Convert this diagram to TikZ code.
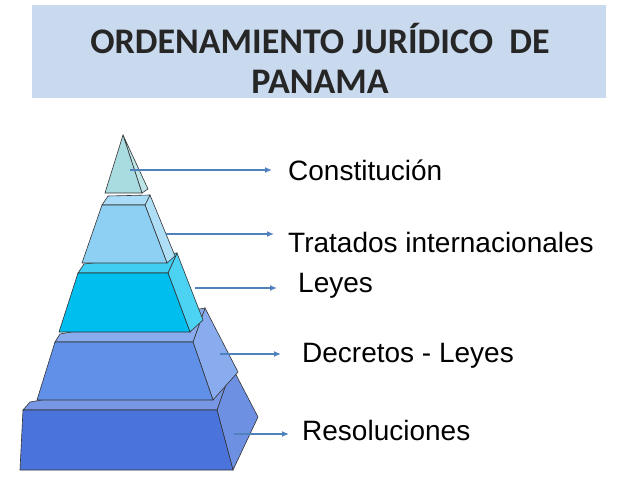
\documentclass[tikz,border=0pt]{standalone}
\usepackage{fontspec}
\setmainfont{Liberation Sans}
\newfontfamily\titlefont{Carlito}
\begin{document}
\begin{tikzpicture}[x=1pt,y=-1pt,
  face/.style={draw=black!80,line width=0.6pt},
  arr/.style={-{Latex[length=7pt,width=6pt]},draw=arrblue,line width=1.5pt},
  lbl/.style={anchor=west,font=\fontsize{28}{32}\selectfont,inner sep=0pt}]
\usetikzlibrary{arrows.meta}
\definecolor{arrblue}{HTML}{4F81BD}
\definecolor{banner}{HTML}{C9D9EE}
\definecolor{ta}{HTML}{A9DCE0}\definecolor{tb}{HTML}{8DD0F4}
\definecolor{tc}{HTML}{00BEEE}\definecolor{td}{HTML}{6190E8}
\definecolor{te}{HTML}{4A74DC}
\useasboundingbox (0,0) rectangle (638,479);
\fill[white] (0,0) rectangle (638,479);
\fill[banner] (32,5) rectangle (606,98);
\node[font=\titlefont\bfseries\fontsize{36}{40}\selectfont,text=black!85,align=center] (title) at (320,58) {ORDENAMIENTO JURÍDICO~~DE\\PANAMA};
% tier 5
\fill[te!80!white,face] (217,410) -- (232,367) -- (258,417) -- (233,470) -- cycle;
\fill[te!75!white,face] (23,410) -- (30,402) -- (232,367) -- (217,410) -- cycle;
\fill[te,face] (23,410) -- (217,410) -- (233,470) -- (20,470) -- cycle;
% tier 4
\fill[td!75!white,face] (193,342) -- (205,308) -- (238,372) -- (213,400) -- cycle;
\fill[td!75!white,face] (55,342) -- (60,334) -- (205,308) -- (193,342) -- cycle;
\fill[td,face] (55,342) -- (193,342) -- (213,400) -- (37,400) -- cycle;
% tier 3
\fill[tc!70!white,face] (168,273) -- (177,253) -- (203,320) -- (190,332) -- cycle;
\fill[tc!75!white,face] (78,273) -- (84,264) -- (177,253) -- (168,273) -- cycle;
\fill[tc,face] (78,273) -- (168,273) -- (190,332) -- (59,332) -- cycle;
% tier 2
\fill[tb!70!white,face] (145,205) -- (150,195) -- (175,256) -- (167,263) -- cycle;
\fill[tb!75!white,face] (102,205) -- (108,196) -- (150,195) -- (145,205) -- cycle;
\fill[tb,face] (102,205) -- (145,205) -- (167,263) -- (82,263) -- cycle;
% tier 1
\fill[ta!75!white,face] (123,135) -- (148,189) -- (142,193) -- cycle;
\fill[ta,face] (123,135) -- (142,193) -- (105,193) -- cycle;
% labels
\node[lbl] (l1) at (288,170) {Constitución};
\node[lbl] (l2) at (288,242) {Tratados internacionales};
\node[lbl] (l3) at (298,286) {Leyes};
\node[lbl] (l4) at (302,356) {Decretos - Leyes};
\node[lbl] (l5) at (302,430) {Resoluciones};
\coordinate (s1) at (130,170);\coordinate (s2) at (166,234);
\coordinate (s3) at (195,288);\coordinate (s4) at (220,354);
\coordinate (s5) at (234,434);
\draw[arr] (s1) -- (272,170);
\draw[arr] (s2) -- (274,234);
\draw[arr] (s3) -- (277,288);
\draw[arr] (s4) -- (281,354);
\draw[arr] (s5) -- (289,434);
\end{tikzpicture}
\end{document}
